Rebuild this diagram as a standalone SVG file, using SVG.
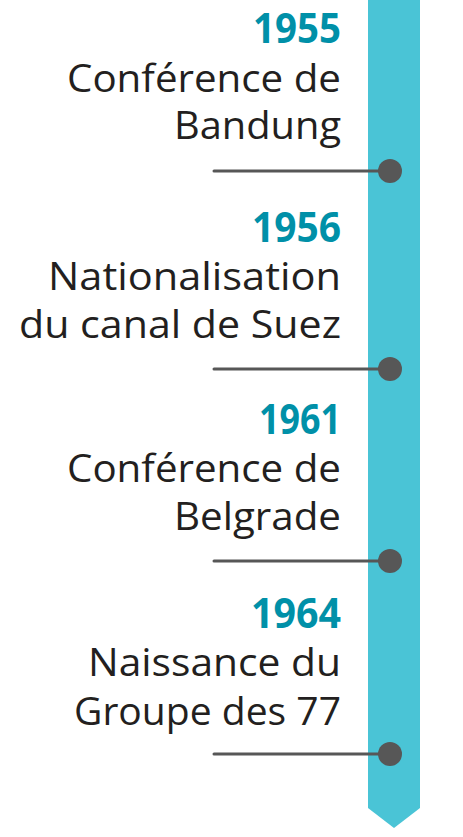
<svg xmlns="http://www.w3.org/2000/svg" width="463" height="837" viewBox="0 0 463 837">
<style>
.year{font-family:"Open Sans","Noto Sans",sans-serif;font-weight:700;font-size:41px;fill:#0090a8;text-anchor:end}
.lbl{font-family:"Open Sans","Noto Sans",sans-serif;font-weight:400;font-size:39px;fill:#231f20;text-anchor:end}
.tick{stroke:#575757;stroke-width:3;stroke-linecap:round;fill:none}
.dot{fill:#575757}
</style>
<rect width="463" height="837" fill="#ffffff"/>
<g id="timeline-bar">
<polygon points="368,0 420,0 420,808 394,828 368,808" fill="#4ac4d6"/>
</g>
<g id="connectors">
<line class="tick" x1="214" y1="171" x2="390" y2="171"/>
<line class="tick" x1="214" y1="369" x2="390" y2="369"/>
<line class="tick" x1="214" y1="561" x2="390" y2="561"/>
<line class="tick" x1="214" y1="754" x2="390" y2="754"/>
</g>
<g id="event-1955">
<text class="year" x="341" y="43" textLength="88" lengthAdjust="spacingAndGlyphs">1955</text>
<text class="lbl" x="341" y="92" textLength="274" lengthAdjust="spacingAndGlyphs">Conférence de</text>
<text class="lbl" x="341" y="139" textLength="167" lengthAdjust="spacingAndGlyphs">Bandung</text>
<circle class="dot" cx="390" cy="171" r="12"/>
</g>
<g id="event-1956">
<text class="year" x="341" y="242" textLength="89" lengthAdjust="spacingAndGlyphs">1956</text>
<text class="lbl" x="341" y="290" textLength="293" lengthAdjust="spacingAndGlyphs">Nationalisation</text>
<text class="lbl" x="341" y="338" textLength="322" lengthAdjust="spacingAndGlyphs">du canal de Suez</text>
<circle class="dot" cx="390" cy="369" r="12"/>
</g>
<g id="event-1961">
<text class="year" x="341" y="434" textLength="82" lengthAdjust="spacingAndGlyphs">1961</text>
<text class="lbl" x="341" y="482" textLength="274" lengthAdjust="spacingAndGlyphs">Conférence de</text>
<text class="lbl" x="341" y="530" textLength="167" lengthAdjust="spacingAndGlyphs">Belgrade</text>
<circle class="dot" cx="390" cy="561" r="12"/>
</g>
<g id="event-1964">
<text class="year" x="341" y="628" textLength="90" lengthAdjust="spacingAndGlyphs">1964</text>
<text class="lbl" x="341" y="676" textLength="253" lengthAdjust="spacingAndGlyphs">Naissance du</text>
<text class="lbl" x="341" y="725" textLength="267" lengthAdjust="spacingAndGlyphs">Groupe des 77</text>
<circle class="dot" cx="390" cy="754" r="12"/>
</g>
</svg>
